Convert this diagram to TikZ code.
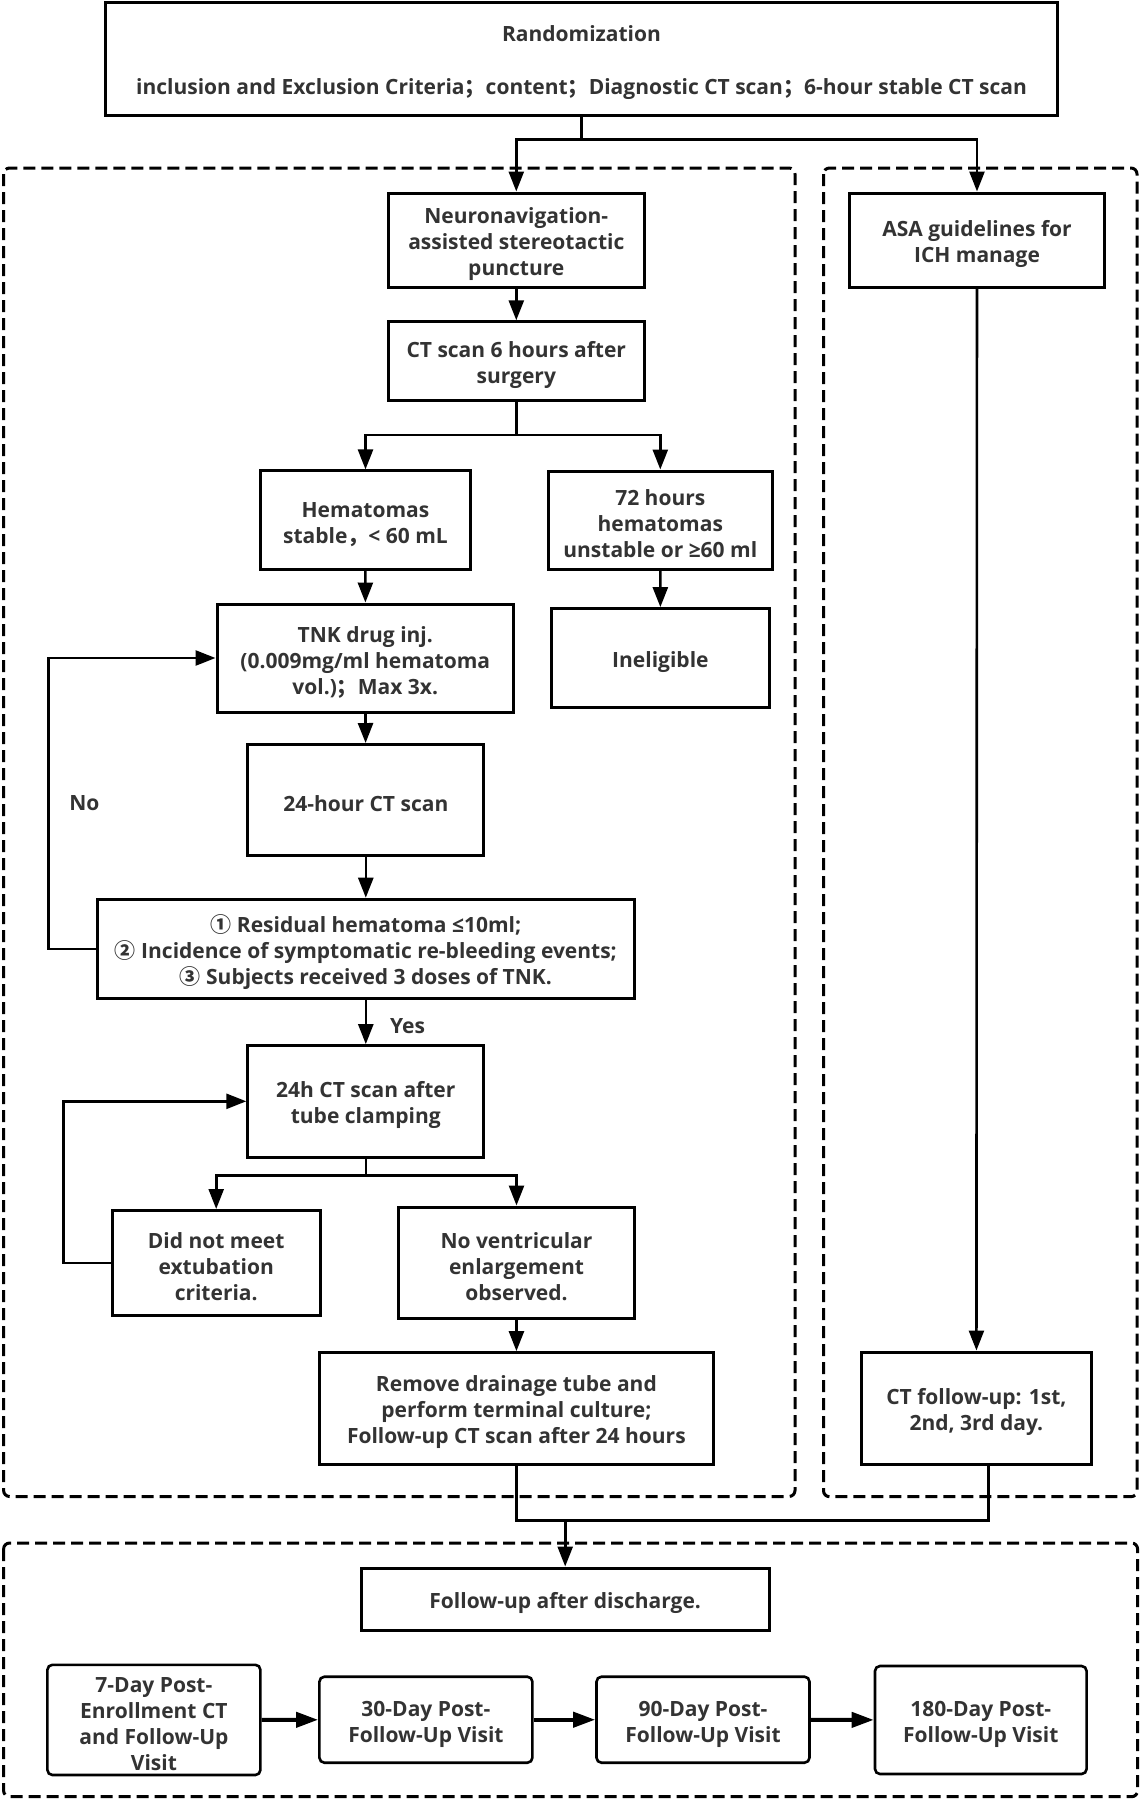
\documentclass[tikz,border=0pt]{standalone}
\usepackage{fontspec}
\setmainfont{Open Sans}
\newfontfamily\cjk{Noto Sans CJK SC}
\newcommand{\zh}[1]{{\cjk #1}}
\newcommand{\lift}{\rule{0pt}{12pt}}
\usetikzlibrary{arrows.meta}

\begin{document}
\begin{tikzpicture}[x=0.5pt, y=-0.5pt,
	>={Triangle[length=10pt,width=7.5pt]},
	box/.style={draw, line width=1.5pt, align=center, inner sep=2pt, text=black!80,
		font=\fontsize{10.5}{13}\selectfont\bfseries},
	rbox/.style={box, line width=1.3pt, rounded corners=2.5pt},
	grp/.style={draw, line width=1.5pt, dash pattern=on 6pt off 3pt, rounded corners=3pt},
	link/.style={line width=1.3pt},
	fwd/.style={line width=2pt, -{Triangle[length=11pt,width=7.5pt]}},
	lbl/.style={inner sep=0pt, text=black!80, font=\fontsize{10.5}{13}\selectfont\bfseries}]
\useasboundingbox (0,0) rectangle (1142,1800);

% groups
\draw[grp] (3.6,168) rectangle (795,1496.5);
\draw[grp] (823.5,168) rectangle (1137,1496.7);
\draw[grp] (3.6,1543) rectangle (1137.6,1796.7);

\node[box, minimum width=475.9pt, minimum height=56.5pt] (rand) at (581.5,58.5)
	{\lift Randomization\\[13.5pt]inclusion and Exclusion Criteria\zh{；}content\zh{；}Diagnostic CT scan\zh{；}6-hour stable CT scan};

% treatment arm
\node[box, minimum width=127.7pt, minimum height=47pt] (neuro) at (516.3,240) {\lift Neuronavigation-\\assisted stereotactic\\puncture};
\node[box, minimum width=127.7pt, minimum height=39.2pt] (ct6) at (516.3,361) {\lift CT scan 6 hours after\\surgery};
\node[box, minimum width=105pt, minimum height=49.1pt] (hem) at (365.5,520) {\lift Hematomas\\stable\zh{，}< 60 mL};
\node[box, minimum width=112.3pt, minimum height=49pt] (h72) at (660.3,520) {\lift 72 hours\\hematomas\\unstable or ≥60 ml};
\node[box, minimum width=148.3pt, minimum height=54pt] (tnk) at (365.3,658) {\lift TNK drug inj.\\(0.009mg/ml hematoma\\vol.)\zh{；}Max 3x.};
\node[box, minimum width=108.6pt, minimum height=49.2pt] (inel) at (660.4,657.8) {\lift Ineligible};
\node[box, minimum width=118pt, minimum height=55.5pt] (ct24) at (365.8,800) {\lift 24-hour CT scan};
\node[box, minimum width=268.8pt, minimum height=49.8pt] (crit) at (365.8,949)
	{\lift\zh{①} Residual hematoma ≤10ml;\\\zh{②} Incidence of symptomatic re-bleeding events;\\\zh{③} Subjects received 3 doses of TNK.};
\node[box, minimum width=118pt, minimum height=55.7pt] (clamp) at (365.8,1101.3) {\lift 24h CT scan after\\tube clamping};
\node[box, minimum width=103.8pt, minimum height=52.3pt] (fail) at (216.2,1262.8) {\lift Did not meet\\extubation\\criteria.};
\node[box, minimum width=118pt, minimum height=55.8pt] (novent) at (516.5,1262.8) {\lift No ventricular\\enlargement\\observed.};
\node[box, minimum width=197.4pt, minimum height=55.7pt] (remove) at (516.4,1408.3)
	{\lift Remove drainage tube and\\perform terminal culture;\\Follow-up CT scan after 24 hours};

% control arm
\node[box, minimum width=127.6pt, minimum height=47pt] (asa) at (977,240) {\lift ASA guidelines for\\ICH manage};
\node[box, minimum width=114.7pt, minimum height=56pt] (ctfu) at (976.4,1408) {\lift CT follow-up: 1st,\\2nd, 3rd day.};

% follow-up
\node[box, minimum width=204.2pt, minimum height=31pt] (fdis) at (565.2,1599) {\lift Follow-up after discharge.};
\node[rbox, minimum width=106.5pt, minimum height=54.2pt] (d7) at (153.9,1719.9) {\lift 7-Day Post-\\Enrollment CT\\and Follow-Up\\Visit};
\node[rbox, minimum width=106.5pt, minimum height=43pt] (d30) at (425.9,1719.7) {\lift 30-Day Post-\\Follow-Up Visit};
\node[rbox, minimum width=106.5pt, minimum height=43pt] (d90) at (703,1719.7) {\lift 90-Day Post-\\Follow-Up Visit};
\node[rbox, minimum width=105.8pt, minimum height=54pt] (d180) at (980.8,1720) {\lift 180-Day Post-\\Follow-Up Visit};

\coordinate (j1) at (581.5,139.3);
\coordinate (j2) at (516.3,435);
\coordinate (j3) at (365.8,1175.4);
\coordinate (j4) at (988.7,1520.7);
\coordinate (j5) at (fdis.north |- j4);

\draw[link] (rand) -- (j1);
\draw[link,->] (j1) -| (neuro);
\draw[link,->] (j1) -| (asa);
\draw[link,->] (neuro) -- (ct6);
\draw[link] (ct6) -- (j2);
\draw[link,->] (j2) -| (hem);
\draw[link,->] (j2) -| (h72);
\draw[link,->] (hem) -- (tnk);
\draw[link,->] (h72) -- (inel);
\draw[link,->] (tnk) -- (ct24);
\draw[link,->] (ct24) -- (crit);
\draw[link,->] (crit.west) -- ++(-47,0) |- node[lbl, pos=0.25, right=9.8pt] {No} (tnk.west);
\draw[link,->] (crit) -- node[lbl, right=11.5pt, yshift=-2pt] {Yes} (clamp);
\draw[link] (clamp) -- (j3);
\draw[link,->] (j3) -| (fail);
\draw[link,->] (j3) -| (novent);
\draw[link,->] (fail.west) -- ++(-47.4,0) |- (clamp.west);
\draw[link,->] (novent) -- (remove);
\draw[link,->] (asa) -- (ctfu);
\draw[link] (remove.south) |- (j4) -- (j4 |- ctfu.south);
\draw[link,->] (j5) -- (fdis);
\foreach \a/\b in {d7/d30, d30/d90, d90/d180}
	\draw[fwd] (\a) -- (\b);
\end{tikzpicture}
\end{document}
